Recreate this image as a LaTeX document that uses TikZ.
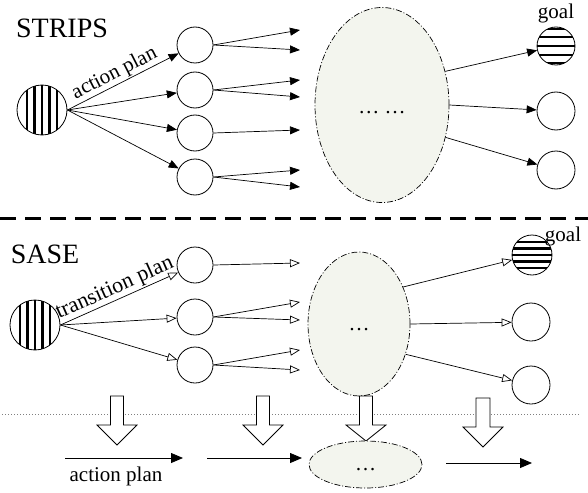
\documentclass[tikz,border=0pt]{standalone}
\usepackage{fontspec}
\setmainfont{Liberation Serif}
\usetikzlibrary{arrows.meta,shapes.geometric}
\definecolor{efill}{HTML}{F3F5EE}
\begin{document}
\begin{tikzpicture}[x=1pt,y=-1pt,
  circ/.style={circle,draw,line width=0.8pt,minimum size=36pt,inner sep=0pt},
  vstripes/.style={circ,minimum size=50pt,path picture={
      \foreach \sx in {-15,-7.5,0,7.5,15}{\draw[line width=2.2pt] ([xshift=\sx pt]path picture bounding box.north) -- ([xshift=\sx pt]path picture bounding box.south);}}},
  hstripesA/.style={circ,minimum size=38pt,path picture={
      \foreach \sy in {-17,-9,0,9,17}{\draw[line width=2.4pt] ([yshift=\sy pt]path picture bounding box.west) -- ([yshift=\sy pt]path picture bounding box.east);}}},
  hstripesB/.style={circ,minimum size=40pt,path picture={
      \foreach \sy in {-13,-6.5,0,6.5,13}{\draw[line width=2.2pt] ([yshift=\sy pt]path picture bounding box.west) -- ([yshift=\sy pt]path picture bounding box.east);}}},
  cloud/.style={ellipse,draw,fill=efill,line width=0.7pt,inner sep=0pt,
      dash pattern=on 6pt off 2pt on 1pt off 2pt,font=\fontsize{21}{24}\selectfont},
  fa/.style={-{Triangle[length=10pt,width=8pt]},line width=0.7pt},
  oa/.style={-{Triangle[open,length=10pt,width=8pt,fill=white]},line width=0.7pt},
  ba/.style={-{Triangle[length=12pt,width=10pt]},line width=0.8pt},
  blk/.style={draw,fill=white,line width=0.8pt,line join=miter},
  title/.style={font=\fontsize{28}{32}\selectfont},
  lab/.style={font=\fontsize{21}{24}\selectfont,inner sep=1pt},
]
\useasboundingbox (0,0) rectangle (588,492);

% ---------------- STRIPS ----------------
\node[title] (tstrips) at (62,28) {STRIPS};
\node[vstripes] (s1) at (42,110) {};
\node[circ] (a1) at (195,45) {};
\node[circ] (a2) at (195,90) {};
\node[circ] (a3) at (195,133) {};
\node[circ] (a4) at (195,177) {};
\node[cloud,minimum width=134pt,minimum height=195pt] (E1) at (382,105) {\raisebox{-9pt}[0pt][0pt]{…\ …}};
\node[hstripesA] (g1) at (556,46) {};
\node[lab] (goal1) at (556,13) {goal};
\node[circ,minimum size=38pt] (b1) at (556,111) {};
\node[circ,minimum size=38pt] (b2) at (556,170) {};

\coordinate (t11) at (300,30);
\coordinate (t12) at (300,50);
\coordinate (t21) at (300,80);
\coordinate (t22) at (300,97);
\coordinate (t31) at (300,130);
\coordinate (t41) at (300,170);
\coordinate (t42) at (300,187);

\draw[fa] (s1.east) -- (a1) node[lab,sloped,above,pos=0.47] (lap) {action plan};
\draw[fa] (s1.east) -- (a2);
\draw[fa] (s1.east) -- (a3);
\draw[fa] (s1.east) -- (a4);
\draw[fa] (a1.east) -- (t11);
\draw[fa] (a1.east) -- (t12);
\draw[fa] (a2.east) -- (t21);
\draw[fa] (a2.east) -- (t22);
\draw[fa] (a3.east) -- (t31);
\draw[fa] (a4.east) -- (t41);
\draw[fa] (a4.east) -- (t42);
\draw[fa] (E1.28) -- (g1);
\draw[fa] (E1.east) -- (b1);
\draw[fa] (E1.-27) -- (b2);

% separator
\coordinate (sepL) at (0,218);
\coordinate (sepR) at (588,218);
\draw[line width=3pt,dash pattern=on 16pt off 9pt] (sepL) -- (sepR);

% ---------------- SASE ----------------
\node[title] (tsase) at (45,254) {SASE};
\node[vstripes] (s2) at (35,325) {};
\node[circ] (c1) at (195,265) {};
\node[circ] (c2) at (195,317) {};
\node[circ] (c3) at (195,365) {};
\node[cloud,minimum width=102pt,minimum height=144pt] (E2) at (359,324) {\raisebox{-6pt}[0pt][0pt]{…}};
\node[hstripesB] (g2) at (532,255) {};
\node[lab] (goal2) at (563,236) {goal};
\node[circ,minimum size=38pt] (d1) at (531,322) {};
\node[circ,minimum size=38pt] (d2) at (531,385) {};

\coordinate (u11) at (300,263);
\coordinate (u21) at (300,302);
\coordinate (u22) at (300,320);
\coordinate (u31) at (300,350);
\coordinate (u32) at (300,370);

\draw[oa] (s2.east) -- (c1) node[lab,sloped,above,pos=0.5,font=\fontsize{22}{24}\selectfont] (ltp) {transition plan};
\draw[oa] (s2.east) -- (c2);
\draw[oa] (s2.east) -- (c3);
\draw[oa] (c1.east) -- (u11);
\draw[oa] (c2.east) -- (u21);
\draw[oa] (c2.east) -- (u22);
\draw[oa] (c3.east) -- (u31);
\draw[oa] (c3.east) -- (u32);
\draw[oa] (E2.40) -- (g2);
\draw[oa] (E2.east) -- (d1);
\draw[oa] (E2.-33) -- (d2);

% dotted divider
\coordinate (dotL) at (2,414);
\coordinate (dotR) at (580,414);
\draw[gray,line width=0.6pt,dash pattern=on 1pt off 2pt] (dotL) -- (dotR);

% block arrows
\draw[blk] (110.5,396) -- (123.5,396) -- (123.5,425) -- (137,425) -- (117,445) -- (97,425) -- (110.5,425) -- cycle;
\draw[blk] (256.5,396) -- (269.5,396) -- (269.5,425) -- (283,425) -- (263,445) -- (243,425) -- (256.5,425) -- cycle;
\draw[blk] (359.5,396) -- (372.5,396) -- (372.5,425) -- (386,425) -- (366,441) -- (346,425) -- (359.5,425) -- cycle;
\draw[blk] (476,398) -- (490,398) -- (490,427) -- (503,427) -- (483,447) -- (463,427) -- (476,427) -- cycle;

% bottom chain
\node[cloud,minimum width=113pt,minimum height=47pt] (E3) at (365.5,464.5) {\raisebox{-6pt}[0pt][0pt]{…}};
\coordinate (p1s) at (65,458);
\coordinate (p1e) at (183,458);
\coordinate (p2s) at (207,458);
\coordinate (p2e) at (302,458);
\coordinate (p4s) at (446,463);
\coordinate (p4e) at (532,463);
\draw[ba] (p1s) -- (p1e);
\draw[ba] (p2s) -- (p2e);
\draw[ba] (p4s) -- (p4e);
\node[lab] (lap2) at (116,476) {action plan};
\end{tikzpicture}
\end{document}
